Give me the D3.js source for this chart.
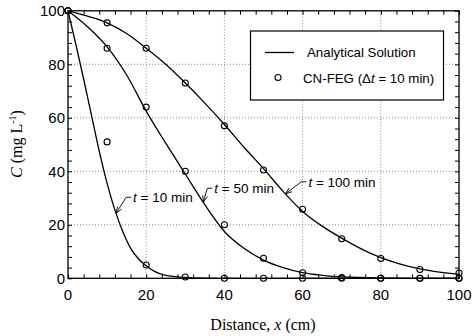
<!DOCTYPE html>
<html><head><meta charset="utf-8">
<script src="https://cdn.jsdelivr.net/npm/d3@7"></script>
<style>body{margin:0;background:#fff}svg{display:block}</style>
</head><body>
<script>
// ---- data ----
const xTicks = [0, 20, 40, 60, 80, 100];
const yTicks = [0, 20, 40, 60, 80, 100];
const pointX = [0, 10, 20, 30, 40, 50, 60, 70, 80, 90, 100];
const pointsT10 = [100, 51, 5, 0.5, 0, 0, 0, 0, 0, 0, 0];
const pointsT50 = [100, 86, 64, 40, 20, 7.5, 2.1, 0.3, 0, 0, 0];
const pointsT100 = [100, 95.5, 86, 73, 57, 40.5, 25.8, 14.8, 7.4, 3.3, 2];
const curveT10X = [0, 2, 4, 6, 8, 10, 12, 14, 16, 18, 20, 22, 25, 30, 35, 40, 50, 60, 70, 80, 90, 100];
const curveT10Y = [100, 87.5, 74.5, 61, 47.5, 35.5, 25.5, 17.5, 11.3, 7.3, 4.7, 2.7, 1.1, 0.3, 0.05, 0, 0, 0, 0, 0, 0, 0];
const curveT50X = [0, 5, 10, 15, 20, 25, 30, 35, 40, 45, 50, 55, 60, 65, 70, 80, 90, 100];
const curveT50Y = [100, 94, 86.5, 76, 62.5, 50.5, 39, 27.5, 17.5, 11.2, 6.8, 4, 2.1, 1.1, 0.5, 0.1, 0, 0];
const curveT100X = [0, 5, 10, 15, 20, 25, 30, 35, 40, 45, 50, 55, 60, 65, 70, 75, 80, 85, 90, 95, 100];
const curveT100Y = [100, 98, 95.5, 91.5, 86, 80, 73, 65.5, 57.5, 49, 41, 32.5, 25, 19.5, 15, 11, 7.7, 5.3, 3.5, 2.3, 1.5];
const legendLabels = ["Analytical Solution", "CN-FEG (\u0394t = 10 min)"];
const curveLabels = [
  {t: "10", x: 12.3},
  {t: "50", x: 34.6},
  {t: "100", x: 55.6}
];

const W = 474, H = 336;
const L = 68, R = 459, T = 10.8, B = 278.3;
const x = d3.scaleLinear().domain([0, 100]).range([L, R]);
const y = d3.scaleLinear().domain([0, 100]).range([B, T]);

const svg = d3.select("body").append("svg").attr("width", W).attr("height", H);

// grid
const grid = svg.append("g").attr("stroke", "#8a8a8a").attr("stroke-width", 1).attr("stroke-dasharray", "1,2");
xTicks.slice(1, -1).forEach(v => grid.append("line").attr("x1", x(v)).attr("x2", x(v)).attr("y1", T).attr("y2", B));
yTicks.slice(1, -1).forEach(v => grid.append("line").attr("y1", y(v)).attr("y2", y(v)).attr("x1", L).attr("x2", R));

// axes (ticks inward on all sides)
const minor = d3.range(0, 101, 4);
const fmt = d3.format("d");
const axB = d3.axisBottom(x).tickValues(minor).tickSize(-4).tickFormat("");
const axT = d3.axisTop(x).tickValues(minor).tickSize(-4).tickFormat("");
const axL = d3.axisLeft(y).tickValues(minor).tickSize(-4).tickFormat("");
const axR = d3.axisRight(y).tickValues(minor).tickSize(-4).tickFormat("");
[[axB, `translate(0,${B})`], [axT, `translate(0,${T})`], [axL, `translate(${L},0)`], [axR, `translate(${R},0)`]].forEach(([a, tr]) => {
  const g = svg.append("g").attr("transform", tr).call(a);
  g.select(".domain").remove();
  g.selectAll("line").attr("stroke", "#000").attr("stroke-width", 1);
});
svg.append("rect").attr("x", L).attr("y", T).attr("width", R - L).attr("height", B - T)
  .attr("fill", "none").attr("stroke", "#000").attr("stroke-width", 1.3);

// tick labels
const tickFont = "Liberation Sans, Arial, sans-serif";
svg.append("g").selectAll("text").data(xTicks).join("text")
  .attr("x", d => x(d)).attr("y", 300).attr("text-anchor", "middle")
  .attr("font-family", tickFont).attr("font-size", 15).text(d => fmt(d));
svg.append("g").selectAll("text").data(yTicks).join("text")
  .attr("x", 65).attr("y", d => y(d)).attr("dy", "0.36em").attr("text-anchor", "end")
  .attr("font-family", tickFont).attr("font-size", 15).text(d => fmt(d));

// axis titles
const xt = svg.append("text").attr("x", 263).attr("y", 330).attr("text-anchor", "middle")
  .attr("font-family", "Liberation Serif, Times New Roman, serif").attr("font-size", 16);
xt.append("tspan").text("Distance, ");
xt.append("tspan").attr("font-style", "italic").text("x");
xt.append("tspan").text(" (cm)");

const yt = svg.append("text").attr("transform", "translate(22,144) rotate(-90)").attr("text-anchor", "middle")
  .attr("font-family", "Liberation Serif, Times New Roman, serif").attr("font-size", 16);
yt.append("tspan").attr("font-style", "italic").text("C");
yt.append("tspan").text(" (mg L");
yt.append("tspan").attr("font-size", 10).attr("dy", -6).text("-1");
yt.append("tspan").attr("dy", 6).text(")");

// analytical curves
const line = d3.line().x(d => x(d[0])).y(d => y(d[1])).curve(d3.curveMonotoneX);
[[curveT10X, curveT10Y], [curveT50X, curveT50Y], [curveT100X, curveT100Y]].forEach(([xs, ys]) => {
  svg.append("path").datum(xs.map((v, i) => [v, ys[i]])).attr("d", line)
    .attr("fill", "none").attr("stroke", "#000").attr("stroke-width", 1.3);
});

// numerical points
[pointsT10, pointsT50, pointsT100].forEach(ys => {
  svg.append("g").selectAll("circle").data(pointX.map((v, i) => [v, ys[i]])).join("circle")
    .attr("cx", d => x(d[0])).attr("cy", d => y(d[1])).attr("r", 3)
    .attr("fill", "none").attr("stroke", "#000").attr("stroke-width", 1.1);
});

// curve labels with leaders
const interp = (xs, ys, v) => {
  for (let i = 0; i < xs.length - 1; i++) if (v >= xs[i] && v <= xs[i + 1]) {
    const f = (v - xs[i]) / (xs[i + 1] - xs[i]); return ys[i] + f * (ys[i + 1] - ys[i]);
  }
  return 0;
};
const curveSets = [[curveT10X, curveT10Y], [curveT50X, curveT50Y], [curveT100X, curveT100Y]];
const textOff = [[14, -16], [8, -14], [20, -12]];
curveLabels.forEach((lab, i) => {
  const tx = x(lab.x), ty = y(interp(curveSets[i][0], curveSets[i][1], lab.x));
  const kx = tx + textOff[i][0] - 4, ky = ty + textOff[i][1];
  const hx = kx + 5;
  svg.append("path").attr("d", `M${hx},${ky} L${kx},${ky} L${tx},${ty}`)
    .attr("fill", "none").attr("stroke", "#000").attr("stroke-width", 0.9);
  const ang = Math.atan2(ty - ky, tx - kx);
  const a1 = ang + Math.PI - 0.35, a2 = ang + Math.PI + 0.35, len = 7;
  svg.append("path").attr("d", `M${tx + len * Math.cos(a1)},${ty + len * Math.sin(a1)} L${tx},${ty} L${tx + len * Math.cos(a2)},${ty + len * Math.sin(a2)}`)
    .attr("fill", "none").attr("stroke", "#000").attr("stroke-width", 0.9);
  const t = svg.append("text").attr("x", hx + 2).attr("y", ky).attr("dy", "0.36em")
    .attr("font-family", tickFont).attr("font-size", 13.5);
  t.append("tspan").attr("font-style", "italic").text("t");
  t.append("tspan").text(` = ${lab.t} min`);
});

// legend
const lg = svg.append("g");
lg.append("rect").attr("x", 250.5).attr("y", 31).attr("width", 193).attr("height", 69)
  .attr("fill", "#fff").attr("stroke", "#000").attr("stroke-width", 1.2);
lg.append("line").attr("x1", 265).attr("x2", 294).attr("y1", 52.5).attr("y2", 52.5)
  .attr("stroke", "#000").attr("stroke-width", 1.3);
lg.append("circle").attr("cx", 278).attr("cy", 77.5).attr("r", 3)
  .attr("fill", "none").attr("stroke", "#000").attr("stroke-width", 1.1);
lg.append("text").attr("x", 307).attr("y", 52.5).attr("dy", "0.36em")
  .attr("font-family", tickFont).attr("font-size", 13.3).text(legendLabels[0]);
const l2 = lg.append("text").attr("x", 303).attr("y", 78.5).attr("dy", "0.36em")
  .attr("font-family", tickFont).attr("font-size", 13.3);
l2.append("tspan").text("CN-FEG (\u0394");
l2.append("tspan").attr("font-style", "italic").text("t");
l2.append("tspan").text(" = 10 min)");
</script>
</body></html>
